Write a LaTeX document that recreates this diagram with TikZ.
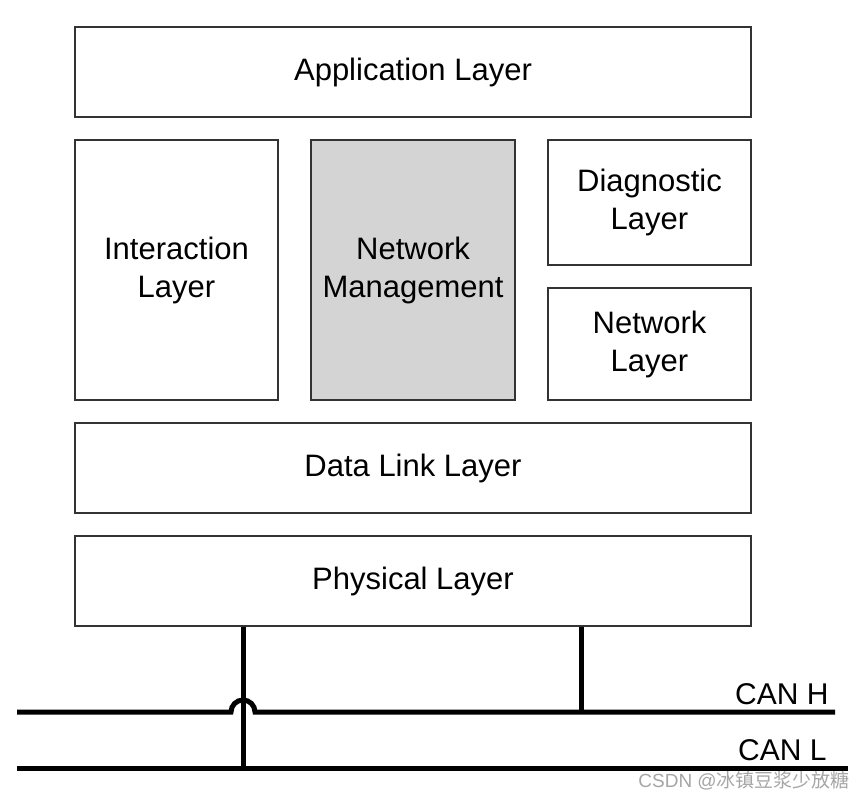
\documentclass[tikz,border=0pt]{standalone}
\usepackage{fontspec}
\setmainfont{Liberation Sans}
\newfontfamily\cjkfont{Noto Sans CJK SC}
\begin{document}
\begin{tikzpicture}[x=1pt,y=-1pt,
  box/.style={draw=black!80,line width=1.5pt,inner sep=0pt,align=center,font=\fontsize{31}{38}\selectfont},
  bus/.style={line width=5pt},
  lbl/.style={font=\fontsize{30}{34}\selectfont,inner sep=0pt}]
\useasboundingbox[fill=white] (0,0) rectangle (865,797);
\node[box,minimum width=676pt,minimum height=90pt] (app) at (413,72) {Application Layer};
\node[box,minimum width=203pt,minimum height=260pt] (inter) at (176.5,270) {Interaction\\Layer};
\node[box,fill=black!17,minimum width=204pt,minimum height=260pt] (nm) at (413,270) {Network\\Management};
\node[box,minimum width=203pt,minimum height=125pt] (diag) at (649.5,202.5) {Diagnostic\\Layer};
\node[box,minimum width=203pt,minimum height=112pt] (net) at (649.5,344) {Network\\Layer};
\node[box,minimum width=676pt,minimum height=90pt] (dll) at (413,468) {Data Link Layer};
\node[box,minimum width=676pt,minimum height=90pt] (phy) at (413,581) {Physical Layer};
\coordinate (hL) at (17,712); \coordinate (hR) at (835,712);
\coordinate (lL) at (17,768); \coordinate (lR) at (848,768);
\coordinate (v1) at (243,768); \coordinate (v2) at (581,712);
\draw[bus] (hL) -- (231,712) arc[start angle=180,end angle=360,radius=12] -- (hR);
\draw[bus] (lL) -- (lR);
\draw[bus] (phy.south -| v1) -- (v1);
\draw[bus] (phy.south -| v2) -- (v2);
\node[lbl,anchor=south west] (canh) at (735,705) {CAN H};
\node[lbl,anchor=south west] (canl) at (738,761) {CAN L};
\node[anchor=south east,text=black!35,font=\fontsize{19}{22}\selectfont,inner sep=0pt] (wm) at (850,790) {CSDN @{\cjkfont 冰镇豆浆少放糖}};
\end{tikzpicture}
\end{document}
